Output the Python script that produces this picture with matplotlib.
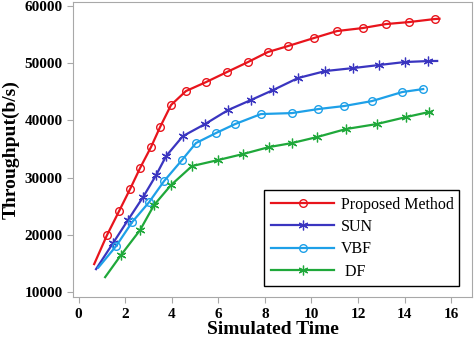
import matplotlib.pyplot as plt

plt.rcParams['font.family'] = ['Liberation Serif', 'DejaVu Serif']

# Proposed Method (first and last points are line ends without markers)
prop_x = [0.67, 1.22, 1.74, 2.21, 2.64, 3.11, 3.50, 3.97, 4.61, 5.47, 6.37,
          7.27, 8.13, 8.99, 10.1, 11.1, 12.2, 13.2, 14.2, 15.3, 15.5]
prop_y = [14900, 19960, 24160, 28000, 31680, 35350, 38850, 42700, 45140, 46700,
          48460, 50200, 51960, 53000, 54400, 55630, 56150, 56850, 57200, 57730, 57780]

sun_x = [0.75, 1.48, 2.12, 2.77, 3.33, 3.76, 4.48, 5.43, 6.42, 7.40, 8.35,
         9.42, 10.6, 11.8, 12.9, 14.0, 15.0, 15.4]
sun_y = [14020, 18570, 22590, 26610, 30450, 33780, 37270, 39370, 41820, 43570,
         45310, 47410, 48640, 49160, 49690, 50210, 50380, 50400]

vbf_x = [0.85, 1.61, 2.30, 3.03, 3.67, 4.44, 5.04, 5.90, 6.72, 7.83, 9.16,
         10.3, 11.4, 12.6, 13.9, 14.8]
vbf_y = [14300, 18040, 22240, 25730, 29400, 33080, 36050, 37800, 39370, 41120,
         41290, 42000, 42520, 43390, 44970, 45490]

df_x = [1.14, 1.82, 2.64, 3.24, 3.97, 4.87, 5.99, 7.06, 8.18, 9.16, 10.24,
        11.48, 12.8, 14.06, 15.04, 15.15]
df_y = [12620, 16470, 20840, 25210, 28710, 32030, 33080, 34130, 35350, 36050,
        37100, 38500, 39370, 40590, 41470, 41500]

asterisk = (6, 2, 0)

fig = plt.figure(figsize=(4.74, 3.38), dpi=100)
ax = fig.add_axes([0.154, 0.121, 0.842, 0.873])

ax.plot(prop_x, prop_y, color='#e8141c', lw=1.6, marker='o', mfc='none', ms=5.5,
        markevery=list(range(1, len(prop_x) - 1)), label='Proposed Method')
ax.plot(sun_x, sun_y, color='#3a35c0', lw=1.6, marker=asterisk, ms=7, mew=0.9,
        markevery=list(range(1, len(sun_x) - 1)), label='SUN')
ax.plot(vbf_x, vbf_y, color='#1ea0e8', lw=1.6, marker='o', mfc='none', ms=5.5,
        markevery=list(range(1, len(vbf_x))), label='VBF')
ax.plot(df_x, df_y, color='#1fa83a', lw=1.6, marker=asterisk, ms=7, mew=0.9,
        markevery=list(range(1, len(df_x) - 1)), label=' DF')

ax.set_xlim(-0.24, 16.9)
ax.set_ylim(9130, 60700)
ax.set_xticks(range(0, 17, 2))
ax.set_yticks(range(10000, 60001, 10000))

for s in ax.spines.values():
    s.set_color('#a8a8a8')
ax.tick_params(colors='#a8a8a8', labelcolor='black', direction='out', length=4)
for lab in ax.get_xticklabels() + ax.get_yticklabels():
    lab.set_fontweight('bold')
    lab.set_fontsize(11)

ax.set_xlabel('Simulated Time', fontsize=14, fontweight='bold', labelpad=0)
ax.set_ylabel('Throughput(b/s)', fontsize=14, fontweight='bold', labelpad=3)

leg = ax.legend(loc='lower left', bbox_to_anchor=(0.479, 0.037, 0.488, 0.3),
                mode='expand', borderaxespad=0, fontsize=11.5, handlelength=4.0,
                handletextpad=0.4, fancybox=False, framealpha=1,
                edgecolor='black', borderpad=0.4, labelspacing=0.4)
leg.get_frame().set_linewidth(1.0)

fig.savefig('out.png', dpi=100)
